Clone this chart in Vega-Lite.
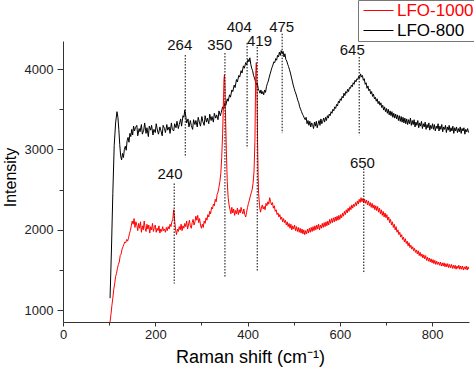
{
  "$schema": "https://vega.github.io/schema/vega-lite/v6.json",
  "autosize": {"type": "none"},
  "padding": {"left": 63, "top": 41, "right": 5, "bottom": 45},
  "width": 406,
  "height": 281,
  "background": "white",
  "config": {
    "view": {"stroke": null},
    "font": "Liberation Sans",
    "axis": {"grid": false, "domainColor": "#333", "tickColor": "#333", "labelColor": "#222", "titleColor": "#000", "labelFont": "Liberation Sans", "titleFont": "Liberation Sans", "titleFontWeight": "normal"}
  },
  "datasets": {
    "lfo800": [
{"x":102,"y":1150},{"x":105,"y":1750},{"x":108,"y":2450},{"x":111,"y":3050},{"x":114,"y":3330},{"x":117,"y":3470},{"x":119,"y":3400},{"x":121,"y":3250},{"x":123,"y":3060},{"x":125,"y":2920},{"x":127,"y":2870},{"x":129,"y":2950},{"x":131,"y":2900},{"x":133,"y":3000},{"x":135,"y":3040},{"x":137,"y":2990},{"x":139,"y":3110},{"x":141,"y":3150},{"x":143,"y":3090},{"x":145,"y":3200},{"x":147,"y":3160},{"x":149,"y":3250},{"x":151,"y":3180},{"x":153,"y":3290},{"x":155,"y":3230},{"x":157,"y":3270},{"x":160,"y":3300},{"x":162,"y":3170},{"x":165,"y":3260},{"x":167,"y":3220},{"x":170,"y":3310},{"x":172,"y":3190},{"x":175,"y":3240},{"x":177,"y":3330},{"x":180,"y":3200},{"x":182,"y":3270},{"x":185,"y":3160},{"x":187,"y":3290},{"x":190,"y":3240},{"x":192,"y":3300},{"x":195,"y":3180},{"x":197,"y":3250},{"x":200,"y":3210},{"x":202,"y":3320},{"x":205,"y":3230},{"x":207,"y":3190},{"x":210,"y":3280},{"x":212,"y":3240},{"x":215,"y":3170},{"x":217,"y":3300},{"x":220,"y":3260},{"x":222,"y":3210},{"x":225,"y":3310},{"x":227,"y":3240},{"x":230,"y":3280},{"x":232,"y":3200},{"x":235,"y":3330},{"x":237,"y":3250},{"x":240,"y":3230},{"x":242,"y":3320},{"x":245,"y":3270},{"x":247,"y":3350},{"x":250,"y":3260},{"x":252,"y":3310},{"x":255,"y":3380},{"x":257,"y":3290},{"x":260,"y":3420},{"x":262,"y":3400},{"x":264,"y":3490},{"x":266,"y":3420},{"x":268,"y":3330},{"x":271,"y":3380},{"x":273,"y":3280},{"x":276,"y":3360},{"x":278,"y":3300},{"x":281,"y":3250},{"x":283,"y":3370},{"x":286,"y":3310},{"x":288,"y":3360},{"x":291,"y":3280},{"x":293,"y":3400},{"x":296,"y":3330},{"x":298,"y":3290},{"x":301,"y":3410},{"x":303,"y":3350},{"x":306,"y":3300},{"x":308,"y":3420},{"x":311,"y":3340},{"x":313,"y":3390},{"x":316,"y":3320},{"x":318,"y":3440},{"x":321,"y":3360},{"x":323,"y":3410},{"x":326,"y":3340},{"x":328,"y":3450},{"x":331,"y":3390},{"x":333,"y":3430},{"x":336,"y":3370},{"x":338,"y":3480},{"x":341,"y":3420},{"x":343,"y":3460},{"x":346,"y":3530},{"x":348,"y":3500},{"x":351,"y":3580},{"x":353,"y":3550},{"x":356,"y":3630},{"x":358,"y":3600},{"x":361,"y":3680},{"x":363,"y":3650},{"x":366,"y":3740},{"x":368,"y":3720},{"x":371,"y":3800},{"x":373,"y":3770},{"x":376,"y":3870},{"x":378,"y":3840},{"x":381,"y":3920},{"x":383,"y":3900},{"x":386,"y":3980},{"x":388,"y":3950},{"x":391,"y":4040},{"x":393,"y":4010},{"x":396,"y":4080},{"x":398,"y":4050},{"x":401,"y":4120},{"x":403,"y":4090},{"x":405,"y":4140},{"x":407,"y":4060},{"x":409,"y":4010},{"x":411,"y":3980},{"x":413,"y":3920},{"x":415,"y":3890},{"x":417,"y":3850},{"x":419,"y":3800},{"x":421,"y":3830},{"x":423,"y":3760},{"x":425,"y":3730},{"x":427,"y":3700},{"x":429,"y":3740},{"x":431,"y":3690},{"x":433,"y":3720},{"x":435,"y":3680},{"x":437,"y":3740},{"x":439,"y":3710},{"x":441,"y":3780},{"x":443,"y":3820},{"x":445,"y":3850},{"x":447,"y":3900},{"x":449,"y":3940},{"x":451,"y":3980},{"x":453,"y":4020},{"x":455,"y":4050},{"x":457,"y":4090},{"x":459,"y":4080},{"x":461,"y":4130},{"x":463,"y":4110},{"x":465,"y":4170},{"x":467,"y":4150},{"x":469,"y":4210},{"x":471,"y":4170},{"x":473,"y":4230},{"x":475,"y":4190},{"x":477,"y":4220},{"x":479,"y":4150},{"x":481,"y":4190},{"x":483,"y":4120},{"x":485,"y":4100},{"x":487,"y":4060},{"x":489,"y":4030},{"x":491,"y":3990},{"x":493,"y":3950},{"x":495,"y":3900},{"x":497,"y":3850},{"x":499,"y":3800},{"x":501,"y":3760},{"x":503,"y":3720},{"x":505,"y":3690},{"x":507,"y":3650},{"x":509,"y":3610},{"x":511,"y":3580},{"x":513,"y":3530},{"x":515,"y":3500},{"x":517,"y":3470},{"x":519,"y":3440},{"x":521,"y":3420},{"x":523,"y":3390},{"x":525,"y":3370},{"x":527,"y":3400},{"x":529,"y":3320},{"x":531,"y":3360},{"x":533,"y":3300},{"x":535,"y":3350},{"x":537,"y":3280},{"x":539,"y":3330},{"x":541,"y":3310},{"x":543,"y":3260},{"x":545,"y":3340},{"x":547,"y":3290},{"x":549,"y":3350},{"x":551,"y":3270},{"x":553,"y":3320},{"x":555,"y":3360},{"x":557,"y":3300},{"x":559,"y":3380},{"x":561,"y":3320},{"x":563,"y":3350},{"x":565,"y":3390},{"x":567,"y":3340},{"x":569,"y":3400},{"x":571,"y":3360},{"x":573,"y":3420},{"x":575,"y":3390},{"x":577,"y":3440},{"x":579,"y":3420},{"x":581,"y":3470},{"x":583,"y":3450},{"x":585,"y":3500},{"x":587,"y":3480},{"x":589,"y":3530},{"x":591,"y":3510},{"x":593,"y":3560},{"x":595,"y":3540},{"x":597,"y":3600},{"x":599,"y":3580},{"x":601,"y":3630},{"x":603,"y":3610},{"x":605,"y":3660},{"x":607,"y":3640},{"x":609,"y":3700},{"x":611,"y":3670},{"x":613,"y":3720},{"x":615,"y":3700},{"x":617,"y":3750},{"x":619,"y":3720},{"x":621,"y":3770},{"x":623,"y":3760},{"x":625,"y":3800},{"x":627,"y":3780},{"x":629,"y":3830},{"x":631,"y":3810},{"x":633,"y":3860},{"x":635,"y":3840},{"x":637,"y":3880},{"x":639,"y":3870},{"x":641,"y":3910},{"x":643,"y":3890},{"x":645,"y":3940},{"x":647,"y":3900},{"x":649,"y":3920},{"x":651,"y":3860},{"x":653,"y":3880},{"x":655,"y":3810},{"x":657,"y":3830},{"x":659,"y":3760},{"x":661,"y":3790},{"x":663,"y":3730},{"x":665,"y":3750},{"x":667,"y":3690},{"x":669,"y":3720},{"x":671,"y":3660},{"x":673,"y":3690},{"x":675,"y":3630},{"x":677,"y":3650},{"x":679,"y":3600},{"x":681,"y":3630},{"x":683,"y":3570},{"x":685,"y":3600},{"x":687,"y":3550},{"x":689,"y":3580},{"x":691,"y":3520},{"x":693,"y":3550},{"x":695,"y":3490},{"x":697,"y":3530},{"x":699,"y":3470},{"x":701,"y":3510},{"x":703,"y":3450},{"x":705,"y":3500},{"x":707,"y":3430},{"x":709,"y":3480},{"x":711,"y":3420},{"x":713,"y":3470},{"x":715,"y":3400},{"x":717,"y":3450},{"x":719,"y":3390},{"x":721,"y":3440},{"x":723,"y":3380},{"x":725,"y":3430},{"x":727,"y":3360},{"x":729,"y":3420},{"x":731,"y":3350},{"x":733,"y":3410},{"x":735,"y":3340},{"x":737,"y":3400},{"x":739,"y":3330},{"x":741,"y":3390},{"x":743,"y":3320},{"x":745,"y":3380},{"x":747,"y":3310},{"x":749,"y":3370},{"x":751,"y":3320},{"x":753,"y":3390},{"x":755,"y":3300},{"x":757,"y":3360},{"x":759,"y":3310},{"x":761,"y":3370},{"x":763,"y":3280},{"x":765,"y":3340},{"x":767,"y":3300},{"x":769,"y":3360},{"x":771,"y":3270},{"x":773,"y":3330},{"x":775,"y":3290},{"x":777,"y":3350},{"x":779,"y":3260},{"x":781,"y":3320},{"x":783,"y":3280},{"x":785,"y":3340},{"x":787,"y":3250},{"x":789,"y":3310},{"x":791,"y":3270},{"x":793,"y":3330},{"x":795,"y":3240},{"x":797,"y":3300},{"x":799,"y":3260},{"x":801,"y":3320},{"x":803,"y":3250},{"x":805,"y":3310},{"x":807,"y":3230},{"x":809,"y":3290},{"x":811,"y":3260},{"x":813,"y":3320},{"x":815,"y":3230},{"x":817,"y":3290},{"x":819,"y":3250},{"x":821,"y":3310},{"x":823,"y":3220},{"x":825,"y":3280},{"x":827,"y":3250},{"x":829,"y":3300},{"x":831,"y":3210},{"x":833,"y":3280},{"x":835,"y":3240},{"x":837,"y":3300},{"x":839,"y":3220},{"x":841,"y":3270},{"x":843,"y":3230},{"x":845,"y":3290},{"x":847,"y":3200},{"x":849,"y":3270},{"x":851,"y":3230},{"x":853,"y":3280},{"x":855,"y":3210},{"x":857,"y":3260},{"x":859,"y":3220},{"x":861,"y":3280},{"x":863,"y":3200},{"x":865,"y":3260},{"x":867,"y":3230},{"x":869,"y":3270},{"x":871,"y":3190},{"x":873,"y":3250},{"x":875,"y":3220},{"x":877,"y":3260},{"x":879,"y":3210}
    ],
    "lfo1000": [
{"x":102,"y":855},{"x":104,"y":950},{"x":106,"y":1060},{"x":108,"y":1150},{"x":110,"y":1260},{"x":112,"y":1330},{"x":114,"y":1420},{"x":116,"y":1460},{"x":118,"y":1520},{"x":120,"y":1570},{"x":122,"y":1600},{"x":124,"y":1680},{"x":126,"y":1700},{"x":128,"y":1760},{"x":130,"y":1790},{"x":132,"y":1820},{"x":134,"y":1850},{"x":136,"y":1840},{"x":138,"y":1880},{"x":140,"y":1860},{"x":142,"y":1900},{"x":144,"y":1950},{"x":146,"y":1990},{"x":148,"y":2050},{"x":150,"y":2110},{"x":152,"y":2070},{"x":154,"y":2140},{"x":156,"y":2030},{"x":158,"y":2100},{"x":160,"y":2060},{"x":162,"y":1990},{"x":164,"y":2080},{"x":166,"y":2020},{"x":168,"y":2100},{"x":170,"y":1970},{"x":172,"y":2050},{"x":174,"y":2000},{"x":176,"y":2110},{"x":178,"y":2020},{"x":180,"y":1980},{"x":182,"y":2070},{"x":184,"y":2010},{"x":186,"y":2060},{"x":188,"y":1960},{"x":190,"y":2040},{"x":192,"y":2000},{"x":194,"y":2080},{"x":196,"y":1980},{"x":198,"y":2030},{"x":200,"y":2060},{"x":202,"y":1970},{"x":204,"y":2020},{"x":206,"y":1990},{"x":208,"y":2050},{"x":210,"y":1960},{"x":212,"y":2010},{"x":214,"y":1980},{"x":216,"y":2040},{"x":218,"y":1990},{"x":220,"y":2010},{"x":222,"y":1970},{"x":224,"y":2030},{"x":226,"y":1990},{"x":228,"y":2040},{"x":230,"y":2010},{"x":232,"y":2070},{"x":234,"y":2040},{"x":236,"y":2100},{"x":238,"y":2130},{"x":240,"y":2250},{"x":242,"y":2120},{"x":244,"y":2000},{"x":246,"y":1940},{"x":248,"y":2010},{"x":250,"y":1980},{"x":252,"y":2040},{"x":254,"y":2000},{"x":256,"y":2070},{"x":258,"y":1990},{"x":260,"y":2050},{"x":262,"y":2020},{"x":264,"y":2080},{"x":266,"y":2040},{"x":268,"y":2110},{"x":270,"y":2010},{"x":272,"y":2060},{"x":274,"y":2120},{"x":276,"y":2050},{"x":278,"y":2020},{"x":280,"y":2090},{"x":282,"y":2130},{"x":284,"y":2060},{"x":286,"y":2100},{"x":288,"y":2170},{"x":290,"y":2120},{"x":292,"y":2180},{"x":294,"y":2090},{"x":296,"y":2140},{"x":298,"y":2060},{"x":300,"y":2020},{"x":302,"y":2070},{"x":304,"y":2030},{"x":306,"y":2110},{"x":308,"y":2080},{"x":310,"y":2150},{"x":312,"y":2120},{"x":314,"y":2190},{"x":316,"y":2160},{"x":318,"y":2230},{"x":320,"y":2200},{"x":322,"y":2280},{"x":324,"y":2260},{"x":326,"y":2320},{"x":328,"y":2300},{"x":330,"y":2380},{"x":332,"y":2350},{"x":334,"y":2440},{"x":336,"y":2470},{"x":338,"y":2530},{"x":340,"y":2600},{"x":342,"y":2700},{"x":344,"y":2900},{"x":346,"y":3200},{"x":348,"y":3650},{"x":349,"y":3880},{"x":350,"y":3930},{"x":351,"y":3800},{"x":352,"y":3500},{"x":354,"y":3000},{"x":356,"y":2600},{"x":358,"y":2400},{"x":360,"y":2310},{"x":362,"y":2250},{"x":364,"y":2200},{"x":366,"y":2280},{"x":368,"y":2210},{"x":370,"y":2260},{"x":372,"y":2180},{"x":374,"y":2240},{"x":376,"y":2200},{"x":378,"y":2270},{"x":380,"y":2190},{"x":382,"y":2250},{"x":384,"y":2210},{"x":386,"y":2280},{"x":388,"y":2230},{"x":390,"y":2200},{"x":392,"y":2260},{"x":394,"y":2190},{"x":396,"y":2160},{"x":398,"y":2220},{"x":400,"y":2280},{"x":402,"y":2330},{"x":404,"y":2370},{"x":406,"y":2420},{"x":408,"y":2460},{"x":410,"y":2500},{"x":412,"y":2580},{"x":414,"y":2720},{"x":416,"y":3100},{"x":417,"y":3600},{"x":418,"y":3980},{"x":419,"y":4080},{"x":420,"y":3950},{"x":421,"y":3500},{"x":422,"y":3000},{"x":423,"y":2650},{"x":424,"y":2450},{"x":426,"y":2300},{"x":428,"y":2220},{"x":430,"y":2270},{"x":432,"y":2310},{"x":434,"y":2260},{"x":436,"y":2290},{"x":438,"y":2250},{"x":440,"y":2330},{"x":442,"y":2300},{"x":444,"y":2350},{"x":446,"y":2320},{"x":448,"y":2400},{"x":450,"y":2350},{"x":452,"y":2310},{"x":454,"y":2340},{"x":456,"y":2270},{"x":458,"y":2300},{"x":460,"y":2230},{"x":462,"y":2250},{"x":464,"y":2190},{"x":466,"y":2210},{"x":468,"y":2160},{"x":470,"y":2190},{"x":472,"y":2130},{"x":474,"y":2160},{"x":476,"y":2100},{"x":478,"y":2140},{"x":480,"y":2090},{"x":482,"y":2120},{"x":484,"y":2060},{"x":486,"y":2100},{"x":488,"y":2040},{"x":490,"y":2080},{"x":492,"y":2020},{"x":494,"y":2070},{"x":496,"y":2000},{"x":498,"y":2050},{"x":500,"y":2010},{"x":502,"y":2060},{"x":504,"y":1990},{"x":506,"y":2040},{"x":508,"y":1980},{"x":510,"y":2030},{"x":512,"y":1970},{"x":514,"y":2020},{"x":516,"y":1960},{"x":518,"y":2010},{"x":520,"y":1950},{"x":522,"y":2000},{"x":524,"y":1940},{"x":526,"y":1990},{"x":528,"y":1950},{"x":530,"y":2010},{"x":532,"y":1960},{"x":534,"y":2020},{"x":536,"y":1970},{"x":538,"y":2030},{"x":540,"y":1980},{"x":542,"y":2040},{"x":544,"y":1990},{"x":546,"y":2050},{"x":548,"y":2000},{"x":550,"y":2060},{"x":552,"y":2010},{"x":554,"y":2070},{"x":556,"y":2000},{"x":558,"y":2060},{"x":560,"y":2020},{"x":562,"y":2080},{"x":564,"y":2030},{"x":566,"y":2090},{"x":568,"y":2040},{"x":570,"y":2100},{"x":572,"y":2050},{"x":574,"y":2110},{"x":576,"y":2060},{"x":578,"y":2130},{"x":580,"y":2080},{"x":582,"y":2140},{"x":584,"y":2090},{"x":586,"y":2150},{"x":588,"y":2100},{"x":590,"y":2160},{"x":592,"y":2110},{"x":594,"y":2170},{"x":596,"y":2120},{"x":598,"y":2180},{"x":600,"y":2130},{"x":602,"y":2190},{"x":604,"y":2150},{"x":606,"y":2210},{"x":608,"y":2170},{"x":610,"y":2230},{"x":612,"y":2190},{"x":614,"y":2250},{"x":616,"y":2210},{"x":618,"y":2270},{"x":620,"y":2230},{"x":622,"y":2290},{"x":624,"y":2250},{"x":626,"y":2310},{"x":628,"y":2270},{"x":630,"y":2320},{"x":632,"y":2290},{"x":634,"y":2340},{"x":636,"y":2300},{"x":638,"y":2360},{"x":640,"y":2320},{"x":642,"y":2380},{"x":644,"y":2340},{"x":646,"y":2400},{"x":648,"y":2350},{"x":650,"y":2390},{"x":652,"y":2340},{"x":654,"y":2380},{"x":656,"y":2330},{"x":658,"y":2370},{"x":660,"y":2310},{"x":662,"y":2360},{"x":664,"y":2300},{"x":666,"y":2340},{"x":668,"y":2280},{"x":670,"y":2330},{"x":672,"y":2270},{"x":674,"y":2310},{"x":676,"y":2250},{"x":678,"y":2300},{"x":680,"y":2240},{"x":682,"y":2290},{"x":684,"y":2220},{"x":686,"y":2270},{"x":688,"y":2200},{"x":690,"y":2250},{"x":692,"y":2180},{"x":694,"y":2230},{"x":696,"y":2160},{"x":698,"y":2210},{"x":700,"y":2150},{"x":702,"y":2190},{"x":704,"y":2120},{"x":706,"y":2160},{"x":708,"y":2090},{"x":710,"y":2130},{"x":712,"y":2060},{"x":714,"y":2100},{"x":716,"y":2030},{"x":718,"y":2070},{"x":720,"y":2000},{"x":722,"y":2040},{"x":724,"y":1970},{"x":726,"y":2000},{"x":728,"y":1940},{"x":730,"y":1970},{"x":732,"y":1910},{"x":734,"y":1940},{"x":736,"y":1880},{"x":738,"y":1910},{"x":740,"y":1850},{"x":742,"y":1890},{"x":744,"y":1830},{"x":746,"y":1860},{"x":748,"y":1800},{"x":750,"y":1840},{"x":752,"y":1780},{"x":754,"y":1810},{"x":756,"y":1760},{"x":758,"y":1790},{"x":760,"y":1740},{"x":762,"y":1770},{"x":764,"y":1720},{"x":766,"y":1750},{"x":768,"y":1700},{"x":770,"y":1740},{"x":772,"y":1680},{"x":774,"y":1720},{"x":776,"y":1670},{"x":778,"y":1700},{"x":780,"y":1650},{"x":782,"y":1690},{"x":784,"y":1640},{"x":786,"y":1680},{"x":788,"y":1620},{"x":790,"y":1660},{"x":792,"y":1610},{"x":794,"y":1650},{"x":796,"y":1600},{"x":798,"y":1640},{"x":800,"y":1590},{"x":802,"y":1630},{"x":804,"y":1580},{"x":806,"y":1620},{"x":808,"y":1570},{"x":810,"y":1610},{"x":812,"y":1570},{"x":814,"y":1600},{"x":816,"y":1560},{"x":818,"y":1600},{"x":820,"y":1550},{"x":822,"y":1590},{"x":824,"y":1550},{"x":826,"y":1590},{"x":828,"y":1540},{"x":830,"y":1580},{"x":832,"y":1540},{"x":834,"y":1580},{"x":836,"y":1530},{"x":838,"y":1570},{"x":840,"y":1530},{"x":842,"y":1570},{"x":844,"y":1520},{"x":846,"y":1560},{"x":848,"y":1520},{"x":850,"y":1560},{"x":852,"y":1510},{"x":854,"y":1550},{"x":856,"y":1520},{"x":858,"y":1560},{"x":860,"y":1510},{"x":862,"y":1550},{"x":864,"y":1510},{"x":866,"y":1550},{"x":868,"y":1500},{"x":870,"y":1540},{"x":872,"y":1510},{"x":874,"y":1550},{"x":876,"y":1500},{"x":878,"y":1540},{"x":880,"y":1510}
    ],
    "peaks": [
      {"x":241,"top":2577,"bottom":1332,"lx":232,"ly":2689,"label":"240"},
      {"x":265,"top":4174,"bottom":2904,"lx":253,"ly":4299,"label":"264"},
      {"x":351,"top":4199,"bottom":1406,"lx":340,"ly":4299,"label":"350"},
      {"x":399,"top":4324,"bottom":3016,"lx":382,"ly":4523,"label":"404"},
      {"x":421,"top":4274,"bottom":1493,"lx":426,"ly":4349,"label":"419"},
      {"x":475,"top":4440,"bottom":3203,"lx":474,"ly":4523,"label":"475"},
      {"x":642,"top":4150,"bottom":3178,"lx":627,"ly":4237,"label":"645"},
      {"x":652,"top":2763,"bottom":1456,"lx":649,"ly":2830,"label":"650"}
    ]
  },
  "layer": [
    {
      "data": {"name": "lfo800"},
      "mark": {"type": "line", "strokeWidth": 1, "clip": true},
      "encoding": {
        "x": {"field": "x", "type": "quantitative", "scale": {"domain": [0, 880], "nice": false, "zero": false},
              "axis": {"values": [0,100,200,300,400,500,600,700,800], "labelExpr": "datum.value % 200 === 0 ? datum.label : ''",
                       "tickSize": {"condition": {"test": "datum.value % 200 === 0", "value": 4}, "value": 3},
                       "labelFontSize": 13, "labelPadding": 2, "title": "Raman shift (cm⁻¹)", "titleFontSize": 18,
                       "titleX": 187, "titleY": 40, "titleBaseline": "alphabetic", "labelFlush": false}},
        "y": {"field": "y", "type": "quantitative", "scale": {"domain": [854, 4349], "nice": false, "zero": false},
              "axis": {"values": [1000,1500,2000,2500,3000,3500,4000], "labelExpr": "datum.value % 1000 === 0 ? datum.label : ''",
                       "format": "d",
                       "tickSize": {"condition": {"test": "datum.value % 1000 === 0", "value": 6}, "value": 4},
                       "labelFontSize": 13, "labelPadding": 4, "title": "Intensity", "titleFontSize": 16,
                       "titleX": -48, "titleY": 136, "titleBaseline": "alphabetic", "titleAngle": -90}},
        "color": {"datum": "LFO-800", "type": "nominal",
                  "scale": {"domain": ["LFO-1000", "LFO-800"], "range": ["#ff0000", "#000000"]},
                  "legend": {"title": null, "orient": "none", "legendX": 295, "legendY": -41,
                             "symbolType": "M-1,0H5", "symbolSize": 100, "symbolStrokeWidth": 1,
                             "labelFontSize": 17, "labelOffset": 20, "padding": 2, "rowPadding": 2,
                             "labelLimit": 300,
                             "strokeColor": "#777", "fillColor": "white",
                             "encode": {"labels": {"update": {
                               "fill": {"signal": "datum.value === 'LFO-1000' ? '#ff0000' : '#000000'"}}}}}}
      }
    },
    {
      "data": {"name": "lfo1000"},
      "mark": {"type": "line", "strokeWidth": 1, "clip": true},
      "encoding": {
        "x": {"field": "x", "type": "quantitative"},
        "y": {"field": "y", "type": "quantitative"},
        "color": {"datum": "LFO-1000", "type": "nominal"}
      }
    },
    {
      "data": {"name": "peaks"},
      "mark": {"type": "rule", "color": "#000", "strokeWidth": 1, "strokeDash": [1.5, 1.5]},
      "encoding": {
        "x": {"field": "x", "type": "quantitative"},
        "y": {"field": "top", "type": "quantitative"},
        "y2": {"field": "bottom"}
      }
    },
    {
      "data": {"name": "peaks"},
      "mark": {"type": "text", "fontSize": 15, "color": "#111", "baseline": "middle", "align": "center"},
      "encoding": {
        "x": {"field": "lx", "type": "quantitative"},
        "y": {"field": "ly", "type": "quantitative"},
        "text": {"field": "label"}
      }
    }
  ]
}
